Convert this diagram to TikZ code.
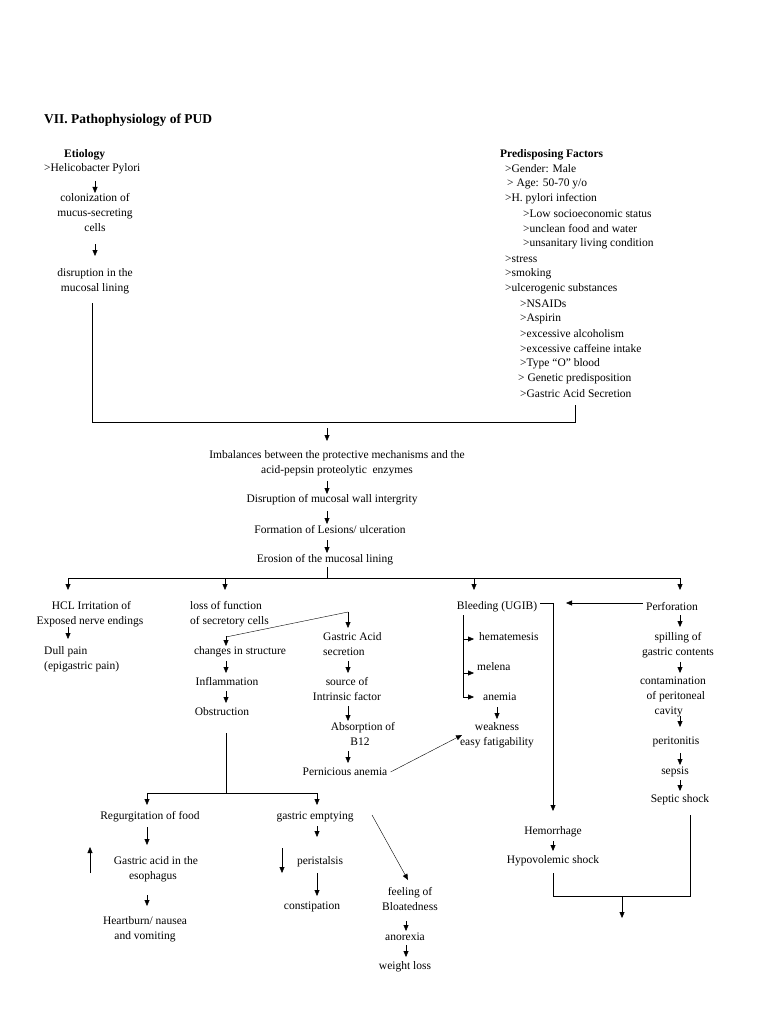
\documentclass[tikz,border=0pt]{standalone}
\usepackage{fontspec}
\setmainfont{Liberation Serif}
\usetikzlibrary{arrows.meta}
\usetikzlibrary{positioning}
\begin{document}
\begin{tikzpicture}[x=1pt,y=-1pt,
    txt/.style={inner sep=0pt,font=\fontsize{11.5}{15}\selectfont,align=center},
    ltxt/.style={txt,anchor=west,align=left},
    hd/.style={ltxt,font=\fontsize{11.5}{15}\selectfont\bfseries},
    ar/.style={-{Triangle[width=5pt,length=6pt]},thin},
    ln/.style={thin}]
    \useasboundingbox (0,0) rectangle (768,1024);

    % HEADINGS
    \node[hd,font=\fontsize{13.5}{15}\selectfont\bfseries] (title) at (44,120) {VII. Pathophysiology of PUD};
    \node[hd] (etio) at (64,155) {Etiology};
    \node[hd] (pred) at (500,155) {Predisposing Factors};

    % ETIOLOGY
    \node[ltxt] (hp) at (44,169) {>Helicobacter Pylori};
    \node[txt] (colon) at (95,213) {colonization of\\mucus-secreting\\cells};
    \node[txt] (disr) at (95,281) {disruption in the\\mucosal lining};
    \draw[ar] (95,181) -- (95,193);
    \draw[ar] (95,244) -- (95,256);

    % PREDISPOSING FACTORS
    \foreach \t/\x [count=\i] in {{>Gender: Male}/505,{> Age: 50-70 y/o}/507,{>H. pylori infection}/505,
        {>Low socioeconomic status}/523,{>unclean food and water}/523,{>unsanitary living condition}/523,
        {>stress}/505,{>smoking}/505,{>ulcerogenic substances}/505,{>NSAIDs}/520,{>Aspirin}/520,
        {>excessive alcoholism}/520,{>excessive caffeine intake}/520,{>Type “O” blood}/520,
        {> Genetic predisposition}/518,{>Gastric Acid Secretion}/520}
        \node[ltxt] (pf\i) at (\x,{154+15*\i}) {\t};

    \draw[ln] (92,303) -- (92,422) -- (575,422) -- (575,405);
    \draw[ar] (327,428) -- (327,441);

    % MAIN CHAIN
    \node[txt] (imb) at (337,463) {Imbalances between the protective mechanisms and the\\acid-pepsin proteolytic\ \ enzymes};
    \node[txt] (dmw) at (332,500) {Disruption of mucosal wall intergrity};
    \node[txt] (les) at (330,530) {Formation of Lesions/ ulceration};
    \node[txt] (ero) at (325,560) {Erosion of the mucosal lining};
    \draw[ar] (327,481) -- (327,494);
    \draw[ar] (327,511) -- (327,524);
    \draw[ar] (327,540) -- (327,553);
    \draw[ln] (327,567) -- (327,578);
    \draw[ln] (68,578) -- (680,578);
    \foreach \x in {68,225,474,680} \draw[ar] (\x,578) -- (\x,590);

    % HCL
    \node[txt] (hcl) at (90,614) {\ HCL Irritation of\\Exposed nerve endings};
    \node[ltxt] (dull) at (44,659) {Dull pain\\(epigastric pain)};
    \draw[ar] (68,627) -- (68,639);

    % LOSS OF FUNCTION
    \node[ltxt] (loss) at (190,614) {loss of function\\of secretory cells};
    \node[txt] (chg) at (240,652) {changes in structure};
    \node[txt] (infl) at (227,682) {Inflammation};
    \node[txt] (obst) at (222,712) {Obstruction};
    \draw[ln] (226,637) -- (348,612);
    \draw[ar] (348,612) -- (348,628);
    \draw[ar] (226,636) -- (226,646);
    \draw[ar] (226,661) -- (226,673);
    \draw[ar] (226,691) -- (226,703);
    \node[ltxt] (gas) at (323,644) {Gastric Acid\\ secretion};
    \node[txt] (src) at (347,689) {source of\\Intrinsic factor};
    \node[txt] (abs) at (360,734) {\ \ Absorption of\\B12};
    \node[txt] (pern) at (345,772) {Pernicious anemia};
    \draw[ar] (348,661) -- (348,673);
    \draw[ar] (348,706) -- (348,721);
    \draw[ar] (348,751) -- (348,763);
    \draw[ar] (pern.east) ++(3,0) -- (462,735);

    \draw[ln] (226,733) -- (226,793);
    \draw[ln] (147,793) -- (317,793);
    \draw[ar] (147,793) -- (147,805);
    \draw[ar] (317,793) -- (317,805);

    % REGURGITATION
    \node[txt] (reg) at (150,817) {Regurgitation of food};
    \node[txt] (gae) at (153,869) {\ \ Gastric acid in the\\esophagus};
    \node[txt] (hb) at (145,929) {Heartburn/ nausea\\ and vomiting};
    \draw[ar] (147,827) -- (147,845);
    \draw[-{Triangle[width=5pt,length=6pt]}] (90,873) -- (90,847);
    \draw[ar] (147,895) -- (147,906);

    % GASTRIC EMPTYING
    \node[txt] (gemp) at (315,817) {gastric emptying};
    \node[txt] (peri) at (320,862) {peristalsis};
    \node[txt] (cons) at (312,907) {constipation};
    \node[txt] (bloat) at (410,899) {feeling of\\Bloatedness};
    \node[txt] (anor) at (405,937) {anorexia};
    \node[txt] (wl) at (405,967) {weight loss};
    \draw[ar] (317,826) -- (317,837);
    \draw[ar] (282,848) -- (282,873);
    \draw[ar] (317,873) -- (317,896);
    \draw[ar] (372,815) -- (408,880);
    \draw[ar] (406,921) -- (406,931);
    \draw[ar] (406,945) -- (406,957);

    % BLEEDING
    \node[txt] (bleed) at (497,607) {Bleeding (UGIB)};
    \node[ltxt] (hem) at (479,637) {hematemesis};
    \node[ltxt] (mel) at (477,667) {melena};
    \node[ltxt] (ane) at (483,697) {anemia};
    \node[txt] (weak) at (497,735) {weakness\\easy fatigability};
    \draw[ln] (463,615) -- (463,697);
    \draw[ar] (463,639) -- (474,639);
    \draw[ar] (463,673) -- (474,673);
    \draw[ar] (463,697) -- (474,697);
    \draw[ar] (497,707) -- (497,719);
    \draw[ar] (bleed.east) ++(3,-4) -- (553,603) -- (553,811);

    % PERFORATION
    \node[txt] (perf) at (672,607) {Perforation};
    \node[txt] (spill) at (678,645) {spilling of\\gastric contents};
    \node[txt] (cont) at (673,697) {contamination\\\ \ of peritoneal\\cavity\ \ \ \ };
    \node[txt] (pton) at (676,742) {peritonitis};
    \node[txt] (seps) at (675,772) {sepsis};
    \node[txt] (sept) at (680,800) {Septic shock};
    \draw[ar] (perf.west) ++(-3,-4) -- (566,603);
    \draw[ar] (680,615) -- (680,627);
    \draw[ar] (680,662) -- (680,673);
    \draw[ar] (680,716) -- (680,727);
    \draw[ar] (680,753) -- (680,765);
    \draw[ar] (680,780) -- (680,791);

    % SHOCK
    \node[txt] (hemo) at (553,832) {Hemorrhage};
    \node[txt] (hypo) at (553,861) {Hypovolemic shock};
    \draw[ar] (553,841) -- (553,851);
    \draw[ln] (553,873) -- (553,896) -- (690,896) -- (690,815);
    \coordinate (end) at (622,918);
    \draw[ar] (622,896) -- (end);
\end{tikzpicture}
\end{document}
